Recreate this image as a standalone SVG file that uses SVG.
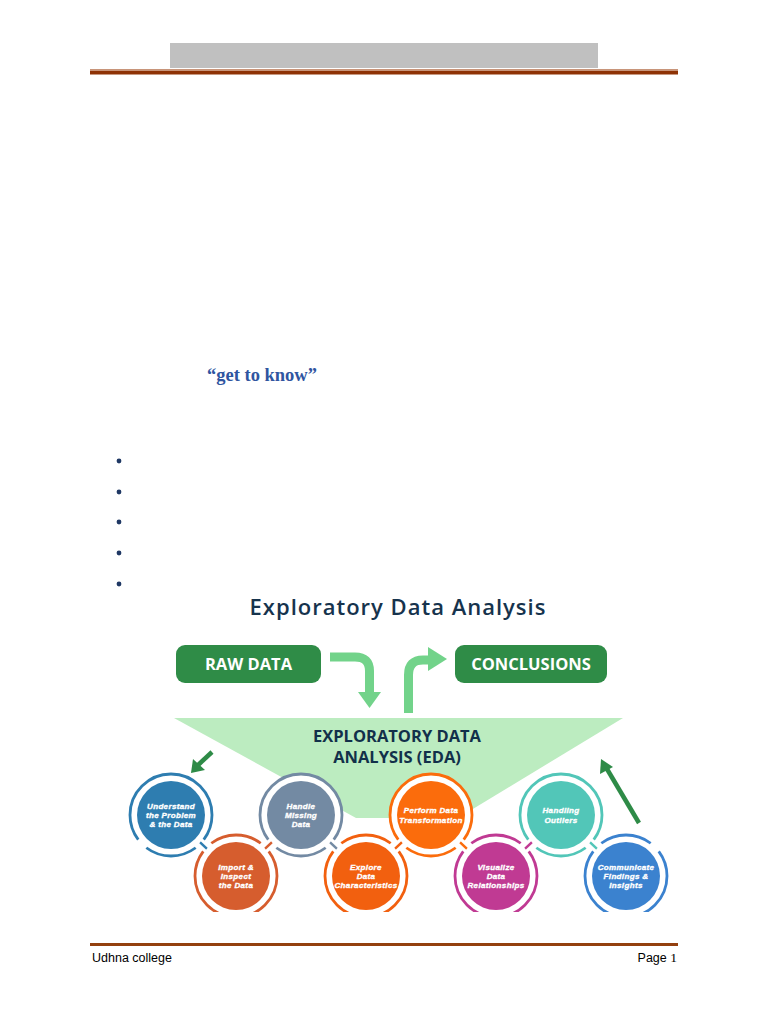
<svg xmlns="http://www.w3.org/2000/svg" width="768" height="1024" viewBox="0 0 768 1024">
<style>
.ctext{font-family:"Liberation Sans",sans-serif;font-weight:700;font-style:italic;font-size:8px;letter-spacing:0.35px;fill:#ffffff;stroke:#ffffff;stroke-width:0.35px;text-anchor:middle}
.btext{font-family:"Open Sans","Liberation Sans",sans-serif;font-weight:700;font-size:16.5px;fill:#ffffff;text-anchor:middle}
.ring{fill:none;stroke-width:2.8}
.top{stroke-dasharray:37 16 74 16 217 0}
.bot{stroke-dasharray:217 16 74 16 37 0}
.conn{stroke-width:2.5;stroke-linecap:butt}
.bullet{fill:#1f3864}
.light{fill:none;stroke:#72d38a;stroke-width:9}
</style>
<defs>
<clipPath id="clipDiag"><rect x="0" y="0" width="768" height="912"/></clipPath>
</defs>
<rect width="768" height="1024" fill="#ffffff"/>
<g id="header">
<rect x="170" y="43" width="428" height="25" fill="#c0c0c0"/>
<rect x="90" y="69" width="588" height="2" fill="#c8957a"/>
<rect x="90" y="71" width="588" height="3.5" fill="#8e3205"/>
</g>
<text id="getknow" x="207" y="381" font-family="Liberation Serif, serif" font-weight="700" font-size="18.5" fill="#2f55a0">“get to know”</text>
<g id="bullets">
<circle class="bullet" cx="119" cy="461" r="2.4"/>
<circle class="bullet" cx="119" cy="492" r="2.4"/>
<circle class="bullet" cx="119" cy="522" r="2.4"/>
<circle class="bullet" cx="119" cy="553" r="2.4"/>
<circle class="bullet" cx="119" cy="584" r="2.4"/>
</g>
<text id="title" x="398" y="615" font-family="Open Sans, Liberation Sans, sans-serif" font-weight="600" font-size="22" letter-spacing="1" fill="#16334d" text-anchor="middle">Exploratory Data Analysis</text>
<g id="funnel">
<polygon points="174,718 623,718 458,818 356,818" fill="#bcecc0"/>
<text x="397" y="742" font-family="Open Sans, Liberation Sans, sans-serif" font-weight="700" font-size="16.5" fill="#12304a" text-anchor="middle"><tspan x="397" y="742">EXPLORATORY DATA</tspan><tspan x="397" y="763">ANALYSIS (EDA)</tspan></text>
</g>
<g id="rawdata">
<rect x="176" y="645" width="145" height="38" rx="9" fill="#2f8c47"/>
<text class="btext" x="248.5" y="670">RAW DATA</text>
</g>
<g id="conclusions">
<rect x="455" y="645" width="152" height="38" rx="9" fill="#2f8c47"/>
<text class="btext" x="531" y="670">CONCLUSIONS</text>
</g>
<g id="connectors">
<path class="light" d="M330,657 H355 Q369.5,657 369.5,671 V693"/>
<polygon points="358,692 381,692 369.5,708" fill="#72d38a"/>
<path class="light" d="M408.5,713 V675 Q408.5,660 423,660 H430"/>
<polygon points="428,647 428,671 447,659" fill="#72d38a"/>
<line x1="212" y1="752" x2="197" y2="766" stroke="#2e8b47" stroke-width="4.5"/>
<polygon points="191,773 193,759 205,770" fill="#2e8b47"/>
<line x1="639" y1="823" x2="607" y2="769" stroke="#2e8b47" stroke-width="4.5"/>
<polygon points="601,759 600,774 613,767" fill="#2e8b47"/>
</g>
<g clip-path="url(#clipDiag)">
<g id="links">
<line class="conn" x1="195.1" y1="837.6" x2="211.8" y2="853.3" stroke="#2e7db0"/>
<line class="conn" x1="260.1" y1="853.4" x2="276.8" y2="837.7" stroke="#d65d2e"/>
<line class="conn" x1="325.1" y1="837.6" x2="341.8" y2="853.3" stroke="#738aa3"/>
<line class="conn" x1="390.1" y1="853.4" x2="406.8" y2="837.7" stroke="#f2600f"/>
<line class="conn" x1="455.1" y1="837.6" x2="471.8" y2="853.3" stroke="#fb6c0c"/>
<line class="conn" x1="520.1" y1="853.4" x2="536.8" y2="837.7" stroke="#c03a93"/>
<line class="conn" x1="585.1" y1="837.6" x2="601.8" y2="853.3" stroke="#52c6b8"/>
</g>
<g id="n-understand">
<circle cx="171" cy="815" r="40" fill="#ffffff"/>
<circle cx="171" cy="815" r="34" fill="#2e7db0"/>
<circle class="ring top" cx="171" cy="815" r="41" stroke="#2e7db0" pathLength="360"/>
<text class="ctext"><tspan x="171" y="808.8">Understand</tspan><tspan x="171" y="818">the Problem</tspan><tspan x="171" y="827.2">&amp; the Data</tspan></text>
</g>
<g id="n-import">
<circle cx="236" cy="876" r="40" fill="#ffffff"/>
<circle cx="236" cy="876" r="34" fill="#d65d2e"/>
<circle class="ring bot" cx="236" cy="876" r="41" stroke="#d65d2e" pathLength="360"/>
<text class="ctext"><tspan x="236" y="869.8">Import &amp;</tspan><tspan x="236" y="879">Inspect</tspan><tspan x="236" y="888.2">the Data</tspan></text>
</g>
<g id="n-missing">
<circle cx="301" cy="815" r="40" fill="#ffffff"/>
<circle cx="301" cy="815" r="34" fill="#738aa3"/>
<circle class="ring top" cx="301" cy="815" r="41" stroke="#738aa3" pathLength="360"/>
<text class="ctext"><tspan x="301" y="808.8">Handle</tspan><tspan x="301" y="818">Missing</tspan><tspan x="301" y="827.2">Data</tspan></text>
</g>
<g id="n-explore">
<circle cx="366" cy="876" r="40" fill="#ffffff"/>
<circle cx="366" cy="876" r="34" fill="#f2600f"/>
<circle class="ring bot" cx="366" cy="876" r="41" stroke="#f2600f" pathLength="360"/>
<text class="ctext"><tspan x="366" y="869.8">Explore</tspan><tspan x="366" y="879">Data</tspan><tspan x="366" y="888.2">Characteristics</tspan></text>
</g>
<g id="n-transform">
<circle cx="431" cy="815" r="40" fill="#ffffff"/>
<circle cx="431" cy="815" r="34" fill="#fb6c0c"/>
<circle class="ring top" cx="431" cy="815" r="41" stroke="#fb6c0c" pathLength="360"/>
<text class="ctext"><tspan x="431" y="813.4">Perform Data</tspan><tspan x="431" y="822.6">Transformation</tspan></text>
</g>
<g id="n-visualize">
<circle cx="496" cy="876" r="40" fill="#ffffff"/>
<circle cx="496" cy="876" r="34" fill="#c03a93"/>
<circle class="ring bot" cx="496" cy="876" r="41" stroke="#c03a93" pathLength="360"/>
<text class="ctext"><tspan x="496" y="869.8">Visualize</tspan><tspan x="496" y="879">Data</tspan><tspan x="496" y="888.2">Relationships</tspan></text>
</g>
<g id="n-outliers">
<circle cx="561" cy="815" r="40" fill="#ffffff"/>
<circle cx="561" cy="815" r="34" fill="#52c6b8"/>
<circle class="ring top" cx="561" cy="815" r="41" stroke="#52c6b8" pathLength="360"/>
<text class="ctext"><tspan x="561" y="813.4">Handling</tspan><tspan x="561" y="822.6">Outliers</tspan></text>
</g>
<g id="n-communicate">
<circle cx="626" cy="876" r="40" fill="#ffffff"/>
<circle cx="626" cy="876" r="34" fill="#3b82cf"/>
<circle class="ring bot" cx="626" cy="876" r="41" stroke="#3b82cf" pathLength="360"/>
<text class="ctext"><tspan x="626" y="869.8">Communicate</tspan><tspan x="626" y="879">Findings &amp;</tspan><tspan x="626" y="888.2">Insights</tspan></text>
</g>
</g>
<g id="footer">
<rect x="90" y="943" width="588" height="3" fill="#93400f"/>
<text x="92" y="962" font-family="Liberation Sans, sans-serif" font-size="12.5" fill="#000000">Udhna college</text>
<text x="677" y="962" font-family="Liberation Sans, sans-serif" font-size="12.5" fill="#000000" text-anchor="end">Page <tspan font-family="Liberation Serif, serif" font-size="13.5">1</tspan></text>
</g>
</svg>
